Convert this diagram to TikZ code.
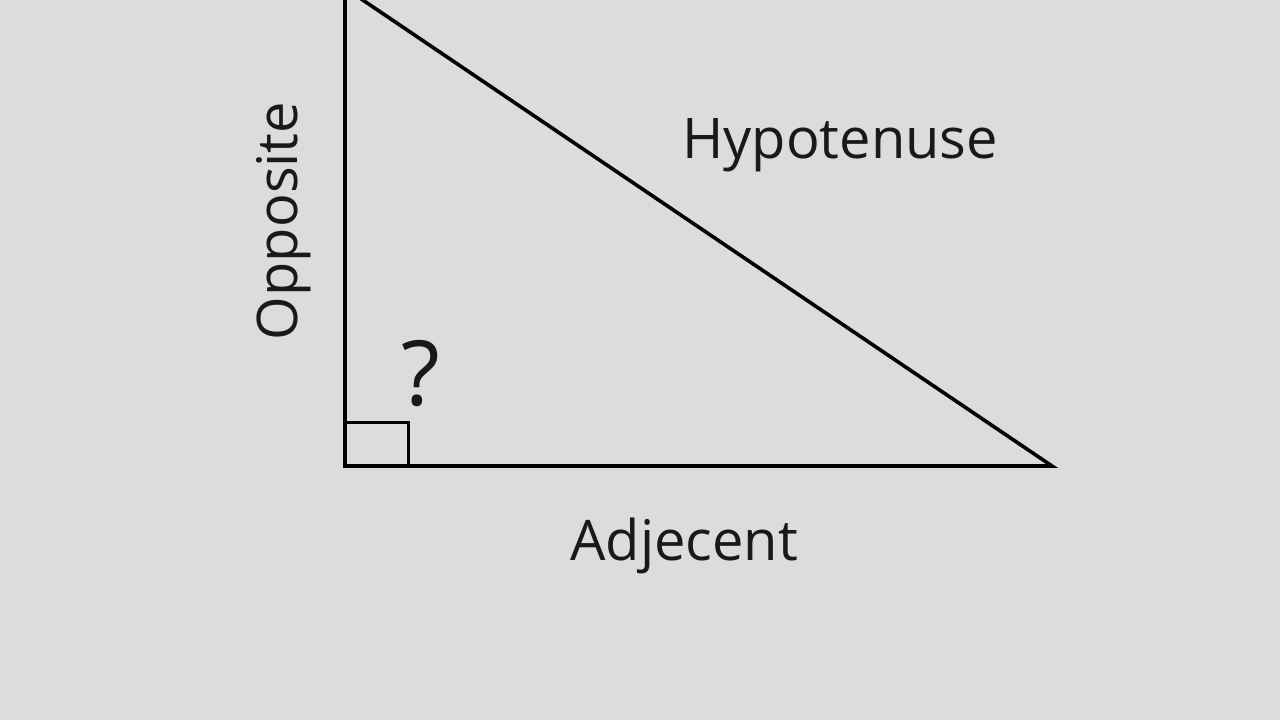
\documentclass[tikz,border=0pt]{standalone}
\usepackage{fontspec}
\setmainfont{Open Sans}
\definecolor{bg}{RGB}{220,220,220}
\definecolor{ink}{RGB}{25,25,25}
\tikzset{
  edge/.style={line width=3.6pt, black, line join=miter},
  lbl/.style={text=ink, inner sep=0pt, font=\fontsize{56}{58}\selectfont},
}
\begin{document}
\begin{tikzpicture}[x=1pt,y=-1pt]
\useasboundingbox[fill=bg] (0,0) rectangle (1280,720);
\coordinate (A) at (345,-12);
\coordinate (B) at (345,466);
\coordinate (C) at (1052,466);
\coordinate (S1) at (345,422);
\coordinate (S2) at (408,422);
\coordinate (S3) at (408,466);
\draw[edge] (A) -- (B) -- (C) -- cycle;
\draw[line width=3pt] (S1) -- (S2) -- (S3);
\node[lbl, anchor=base] (hyp) at (840,158) {Hypotenuse};
\node[lbl, anchor=base] (adj) at (684,560) {Adjecent};
\node[lbl, anchor=base, rotate=90] (opp) at (297,221) {Opposite};
\node[lbl, anchor=base, font=\fontsize{90}{92}\selectfont] (q) at (421,405) {?};
\end{tikzpicture}
\end{document}
